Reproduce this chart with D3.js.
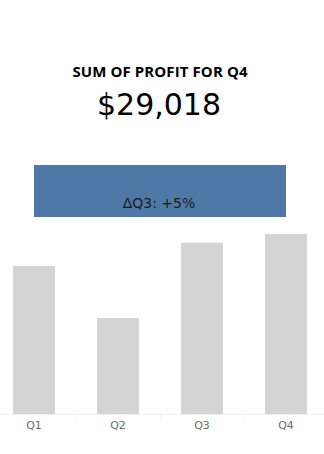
<!DOCTYPE html>
<html lang="en">
<head>
<meta charset="utf-8">
<script src="https://d3js.org/d3.v7.min.js"></script>
<style>
  body { margin: 0; background: #fff; }
  text { font-family: "DejaVu Sans", sans-serif; }
</style>
</head>
<body>
<script>
  // data
  const quarters = ["Q1", "Q2", "Q3", "Q4"];
  const profit = [23860, 15480, 27640, 29018];
  const titleText = "SUM OF PROFIT FOR Q4";
  const deltaText = "\u0394Q3: +5%";

  const width = 324, height = 454;

  const svg = d3.select("body").append("svg")
      .attr("width", width)
      .attr("height", height);

  // headline
  svg.append("text")
      .attr("x", 160).attr("y", 77)
      .attr("text-anchor", "middle")
      .style("font-family", "'Open Sans', sans-serif")
      .attr("font-size", 15)
      .attr("font-weight", "bold")
      .attr("letter-spacing", 0.1)
      .attr("fill", "#000")
      .text(titleText);

  svg.append("text")
      .attr("x", 159).attr("y", 115)
      .attr("text-anchor", "middle")
      .attr("font-size", 30)
      .attr("fill", "#000")
      .text("$" + d3.format(",")(profit[3]));

  // blue box with the change
  svg.append("rect")
      .attr("x", 34).attr("y", 165)
      .attr("width", 252).attr("height", 52)
      .attr("fill", "#4e79a7");

  svg.append("text")
      .attr("x", 159).attr("y", 208)
      .attr("text-anchor", "middle")
      .attr("font-size", 14)
      .attr("fill", "#1a1a1a")
      .text(deltaText);

  // bars
  var x = d3.scaleBand()
      .domain(quarters)
      .range([-8, 328])
      .paddingInner(0.5)
      .paddingOuter(0.25);

  var y = d3.scaleLinear()
      .domain([0, 30000])
      .range([414, 228]);

  svg.selectAll(".bar")
      .data(quarters)
      .enter()
      .append("rect")
      .attr("class", "bar")
      .attr("x", d => x(d))
      .attr("width", x.bandwidth())
      .attr("y", (d, i) => y(profit[i]))
      .attr("height", (d, i) => y(0) - y(profit[i]))
      .attr("fill", "#d4d4d4");

  // axis
  svg.append("line")
      .attr("x1", 0).attr("x2", width)
      .attr("y1", 414.5).attr("y2", 414.5)
      .attr("stroke", "#f0f0f0");

  var step = x.step();
  svg.selectAll(".divider")
      .data(quarters.slice(1))
      .enter()
      .append("line")
      .attr("class", "divider")
      .attr("x1", d => x(d) - step / 4 + 0.5)
      .attr("x2", d => x(d) - step / 4 + 0.5)
      .attr("y1", 414).attr("y2", 418)
      .attr("stroke", "#f0f0f0");

  svg.selectAll(".qlabel")
      .data(quarters)
      .enter()
      .append("text")
      .attr("class", "qlabel")
      .attr("x", d => x(d) + x.bandwidth() / 2)
      .attr("y", 429)
      .attr("text-anchor", "middle")
      .attr("font-size", 11)
      .attr("fill", "#6b6b6b")
      .text(d => d);
</script>
</body>
</html>
